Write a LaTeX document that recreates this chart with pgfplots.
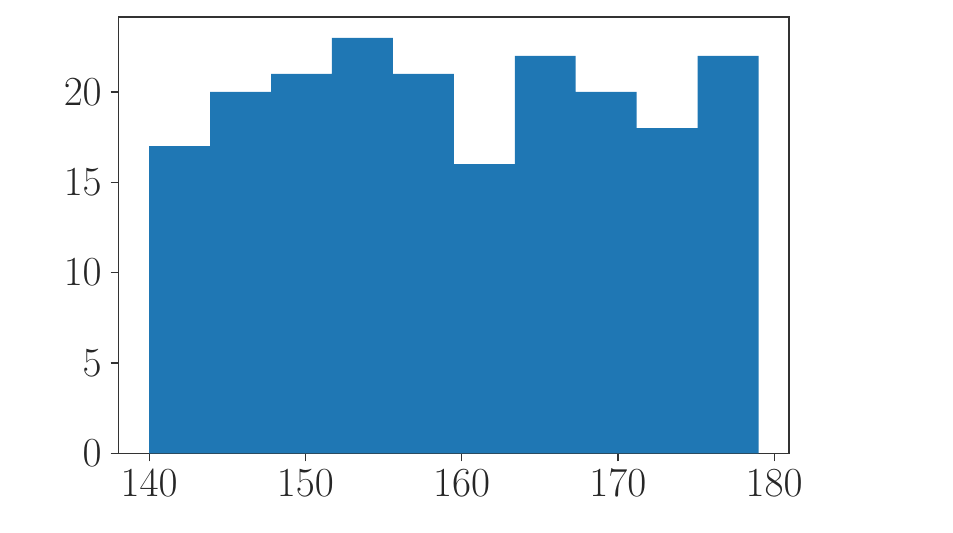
\documentclass[border=0pt]{standalone}
\usepackage{pgfplots}
\pgfplotsset{compat=1.18}
\definecolor{mplblue}{HTML}{1F77B4}
\begin{document}
\begin{tikzpicture}
	\begin{axis}[
		scale only axis,
		width=335.15bp,
		height=218.15bp,
		xmin=138.05, xmax=180.95,
		ymin=0, ymax=24.15,
		xtick={140,150,160,170,180},
		ytick={0,5,10,15,20},
		tick align=outside,
		xtick pos=bottom,
		ytick pos=left,
		major tick length=4bp,
		axis line style={line width=0.6bp, black!80},
		tick style={line width=0.6bp, black!80},
		ticklabel style={font=\fontsize{20.5}{24}\selectfont, text=black!85},
		xticklabel style={yshift=-1bp},
		yticklabel style={xshift=-1bp}]

			\addplot[ybar interval, fill=mplblue, draw=none] coordinates{
				(140,17)(143.9,20)(147.8,21)(151.7,23)(155.6,21)(159.5,16)
				(163.4,22)(167.3,20)(171.2,18)(175.1,22)(179,22)};

	\end{axis}
	\path[use as bounding box] (-59.35bp,-39.85bp) rectangle (417.15bp,226.65bp);
\end{tikzpicture}
\end{document}
